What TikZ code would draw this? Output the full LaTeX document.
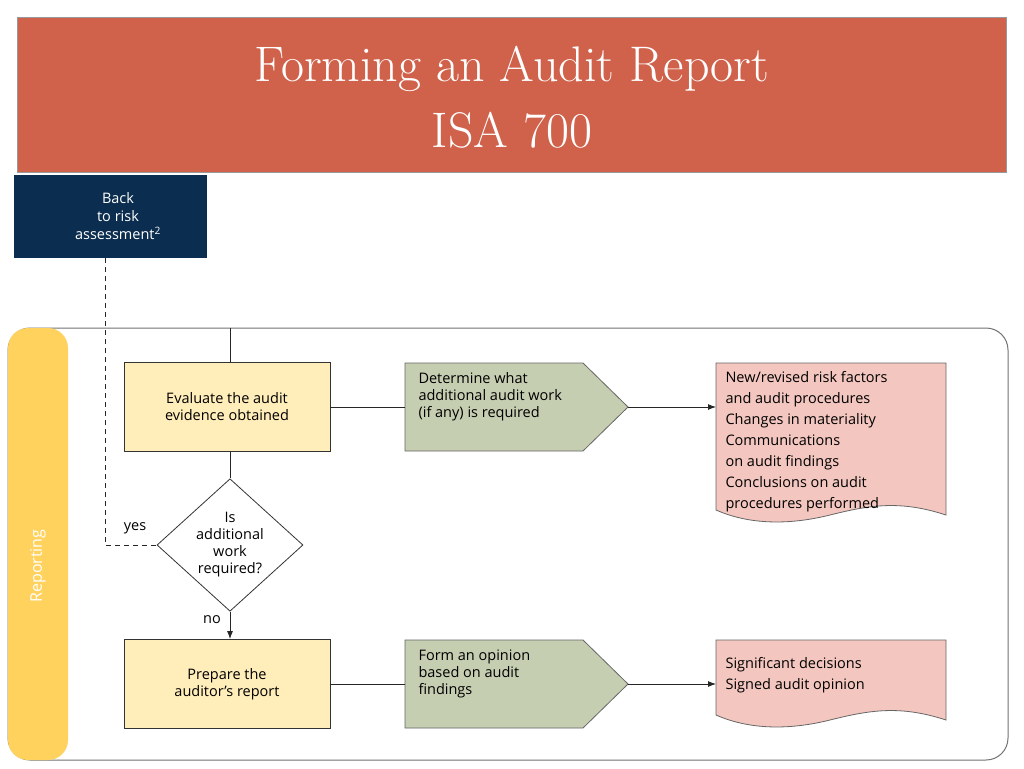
\documentclass[tikz,border=0pt]{standalone}
\usepackage{fontspec}
\setsansfont{Open Sans}
\usetikzlibrary{shapes.geometric,shapes.symbols,arrows.meta}
\definecolor{banner}{HTML}{D0614A}
\definecolor{navy}{HTML}{0B2D4F}
\definecolor{side}{HTML}{FFD25E}
\definecolor{ybox}{HTML}{FFEDBA}
\definecolor{gbox}{HTML}{C6CEB2}
\definecolor{pbox}{HTML}{F3C7BF}
\begin{document}
\begin{tikzpicture}[x=1pt,y=-1pt,
  txt/.style={font=\sffamily\fontsize{14.5}{17}\selectfont,text=black},
  ybx/.style={txt,draw=black!80,fill=ybox,minimum width=206,minimum height=89,align=center,line width=0.8},
  gbx/.style={txt,draw=black!60,fill=gbox,align=left,line width=0.8},
  lin/.style={line width=0.9,black!85},
  arr/.style={lin,-{Latex[length=8,width=6]}}]
\useasboundingbox (0,0) rectangle (1024,768);
\fill[white] (0,0) rectangle (1024,768);
% banner
\node[draw=black!40,fill=banner,minimum width=989,minimum height=155,anchor=north west,inner sep=0] (title) at (17,17) {};
\node[text=white,font=\fontsize{50}{66}\selectfont,align=center] (tt) at (512,97) {Forming an Audit Report\\ISA \oldstylenums{700}};
% back box
\node[fill=navy,minimum width=193,minimum height=83,anchor=north west,inner sep=0] (back) at (14,175) {};
\node[text=white,font=\sffamily\fontsize{14.5}{18}\selectfont,align=center] (backt) at (118,216) {Back\\to risk\\assessment\textsuperscript{2}};
% panel
\draw[black!55,line width=1,rounded corners=22,fill=white] (8,328) rectangle (1008,760);
\fill[side,rounded corners=20] (8,328) rectangle (68,760);
\node[rotate=90,text=white,font=\sffamily\fontsize{16}{18}\selectfont] (rep) at (38,566) {Reporting};
% boxes
\node[ybx] (b1) at (227,407) {Evaluate the audit\\evidence obtained};
\node[ybx] (b2) at (227,684) {Prepare the\\auditor's report};
\node[diamond,txt,draw=black!80,fill=white,minimum width=146,minimum height=120,inner sep=0,align=center,line width=0.8] (d) at (230,545) {Is\\additional\\work\\required?};
% green pentagons
\foreach \n/\y/\t in {g1/407/{Determine what\\additional audit work\\(if any) is required},g2/684/{Form an opinion\\based on audit\\findings}}{
  \draw[black!60,fill=gbox,line width=0.8] (405,\y-44) -- (583,\y-44) -- (628,\y) -- (583,\y+44) -- (405,\y+44) -- cycle;
  \coordinate (\n L) at (405,\y); \coordinate (\n R) at (628,\y);
  \node[txt,align=left,anchor=west] (\n) at (415,\y-10) {\t};
}
% documents
\draw[black!60,fill=pbox,line width=0.8] (716,363) -- (946,363) -- (946,515) .. controls (900,500) and (870,505) .. (830,515) .. controls (790,525) and (750,525) .. (716,510) -- cycle;
\coordinate (p1L) at (716,407);
\node[txt,align=left,anchor=north west,font=\sffamily\fontsize{14.5}{21}\selectfont] (p1) at (722,368) {New/revised risk factors\\and audit procedures\\Changes in materiality\\Communications\\on audit findings\\Conclusions on audit\\procedures performed};
\draw[black!60,fill=pbox,line width=0.8] (716,640) -- (946,640) -- (946,720) .. controls (900,705) and (870,710) .. (830,720) .. controls (790,730) and (750,730) .. (716,715) -- cycle;
\coordinate (p2L) at (716,684);
\node[txt,align=left,anchor=north west,font=\sffamily\fontsize{14.5}{21}\selectfont] (p2) at (722,654) {Significant decisions\\Signed audit opinion};
% connectors
\coordinate (top) at (230,328);
\draw[lin] (top) -- (b1.north -| top);
\draw[lin] (b1.east) -- (g1L);
\draw[arr] (g1R) -- (p1L);
\draw[lin] (b1.south -| d.north) -- (d.north);
\draw[arr] (d.south) -- (b2.north -| d.south);
\draw[lin] (b2.east) -- (g2L);
\draw[arr] (g2R) -- (p2L);
\coordinate (dc) at (105,545);
\draw[lin,dashed,dash pattern=on 5 off 4] (back.south -| dc) -- (dc) -- (d.west);
\node[txt] (yes) at (135,528) {yes};
\node[txt] (no) at (212,620) {no};
\end{tikzpicture}
\end{document}
